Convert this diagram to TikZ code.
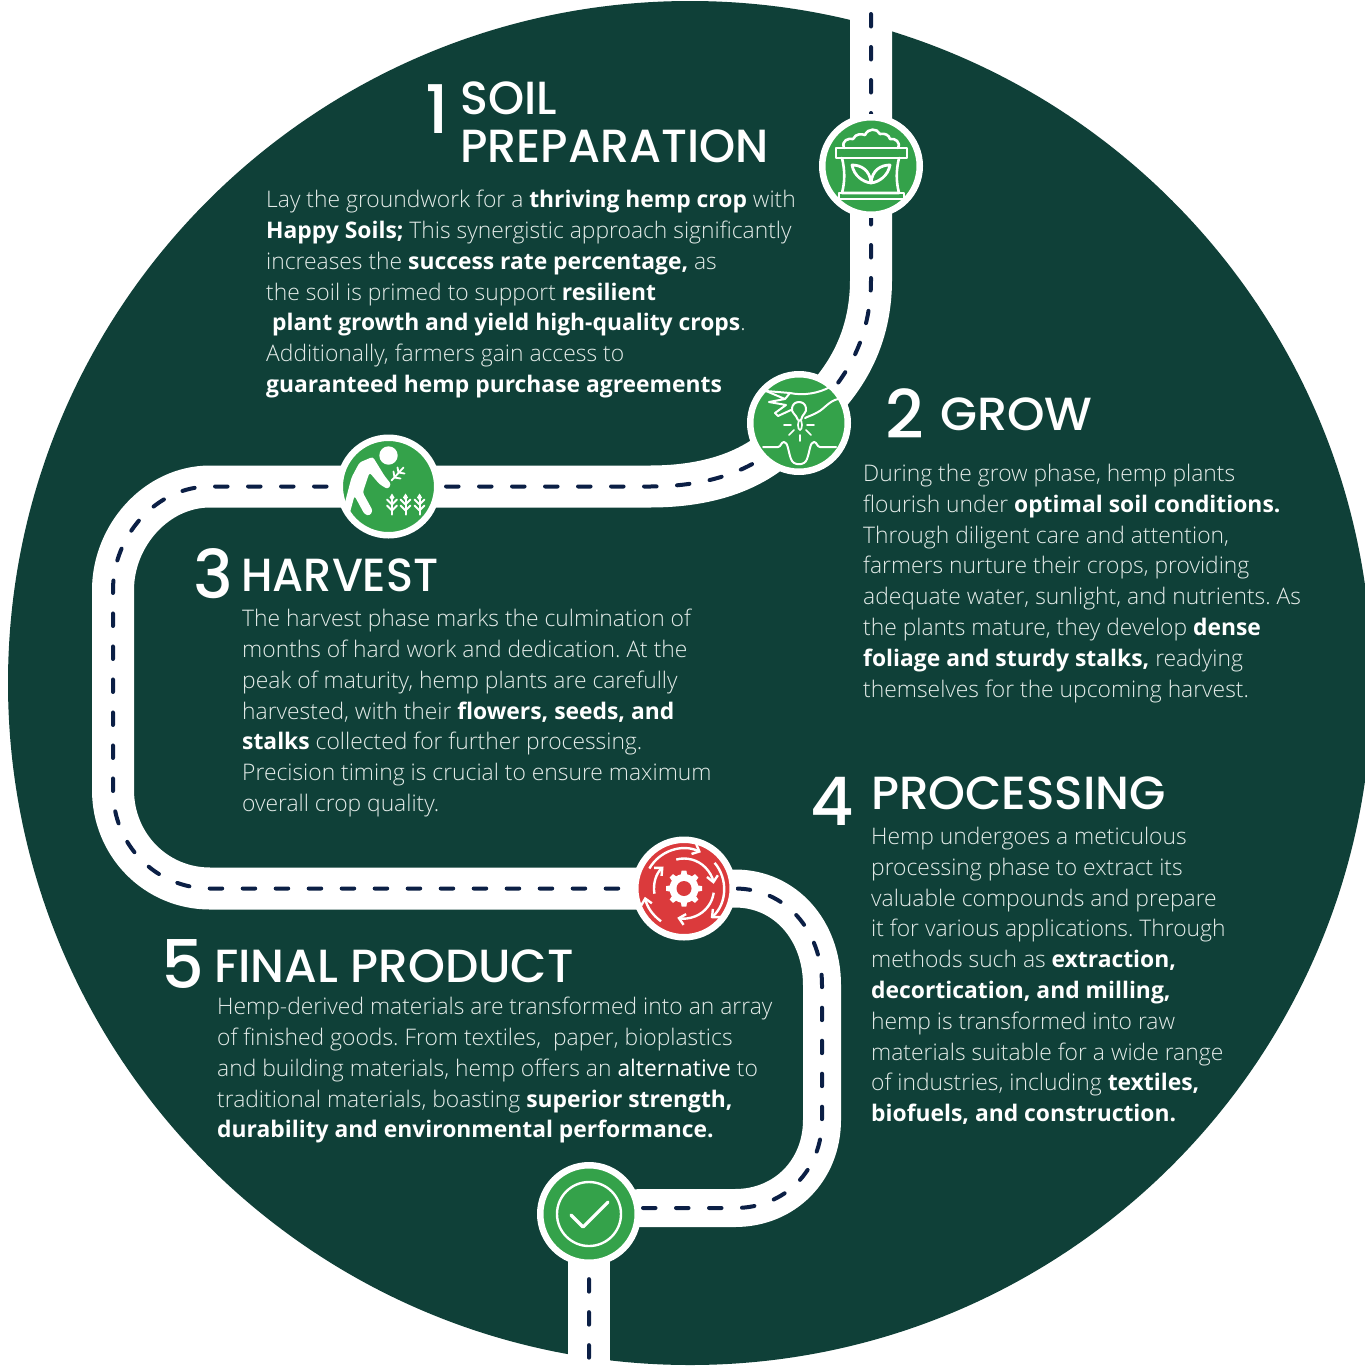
\documentclass[tikz,border=0pt]{standalone}
\usepackage{fontspec}
\usepackage{graphicx}
\usetikzlibrary{arrows.meta}
\setmainfont{Open Sans}
\newfontfamily\regf{Open Sans}
\newfontfamily\lightf{Open Sans Light}
\newfontfamily\headf{Poppins Medium}
\definecolor{bgdark}{HTML}{0F4038}
\definecolor{icongreen}{HTML}{34A24A}
\definecolor{iconred}{HTML}{DB3A3C}
\definecolor{dashnavy}{HTML}{0B1F45}
\definecolor{bodytext}{HTML}{E4ECE9}
\newcommand{\B}[1]{{\regf\bfseries\color{white}#1}}
\newcommand{\Rg}[1]{{\regf\color{white}#1}}
\newcommand{\Hs}[2]{\scalebox{#1}[1]{#2}}
\pgfdeclarelayer{under}
\pgfsetlayers{under,main}
\tikzset{
  para/.style={anchor=north west,inner sep=0pt,align=left,text=bodytext,font=\fontsize{22.85}{30.8}\selectfont\lightf\frenchspacing},
  headtxt/.style={anchor=base west,inner sep=0pt,text=white,font=\fontsize{46.5}{48}\selectfont\headf},
  digit/.style={anchor=base west,inner sep=0pt,text=white,font=\fontsize{67}{70}\selectfont\headf},
  badge/.style={circle,fill=#1,draw=white,line width=6.5pt,minimum size=97.5pt,inner sep=0pt},
  ic/.style={draw=white,line cap=round,line join=round,fill=none},
  roadline/.style={white,line join=round,line width=#1},
  roaddash/.style={dashnavy,line width=4pt,line cap=round,dash pattern=on 12.5pt off 20.5pt},
}
\begin{document}
\begin{tikzpicture}[x=1pt,y=-1pt]
\useasboundingbox (0,0) rectangle (1365,1366);

% named positions
\coordinate (top) at (871,14);
\coordinate (bottom) at (589,1370);
\node[badge=icongreen] (s1) at (871,166) {};
\node[badge=icongreen] (s2) at (799,423) {};
\node[badge=icongreen] (s3) at (388.5,486.5) {};
\node[badge=iconred] (s4) at (684,888.5) {};
\node[badge=icongreen] (s5) at (589,1214) {};

% background and road
\begin{pgfonlayer}{under}
\fill[white] (0,0) rectangle (1365,1366);
\fill[bgdark] (690,683) circle[radius=682pt];
\def\roadA{(top) -- (s1.center) -- (871,280) .. controls (871,345) and (840,390) .. (s2.center)
  .. controls (765,470) and (710,486.5) .. (650,486.5) -- (s3.center) -- (210,486.5)
  .. controls (156,486.5) and (113,536) .. (113,590) -- (113,790)
  .. controls (113,845) and (156,888.5) .. (210,888.5) -- (s4.center)}
\def\roadB{-- (735,888.5)
  .. controls (785,888.5) and (822,930) .. (822,985) -- (822,1120)
  .. controls (822,1170) and (785,1208) .. (735,1208) -- (640,1208) -- (s5.center)}
\draw[roadline=42pt] \roadA;
\draw[roadline=38pt] (s4.center) \roadB;
\draw[roadline=42pt] (s5.center) -- (bottom);
\draw[roaddash] \roadA \roadB -- (bottom);
\end{pgfonlayer}

% icon 1 : bag
\begin{scope}[shift={(s1.center)},x=1pt,y=-1pt]
\draw[ic,line width=2.6pt] (-35,-18) rectangle (36,-8);
\draw[ic,line width=2.6pt] (-29,-8) .. controls (-26,5) and (-26,15) .. (-29,27) -- (28,27) .. controls (25,15) and (25,5) .. (28,-8);
\draw[ic,line width=2.6pt] (-32,27) rectangle (33,33);
\draw[ic,line width=2.6pt] (-27,-18) .. controls (-30,-26) and (-22,-28) .. (-18,-27) .. controls (-15,-33) and (-9,-32) .. (-6,-31) .. controls (-3,-38) and (6,-38) .. (9,-32) .. controls (14,-33) and (18,-31) .. (19,-27) .. controls (24,-28) and (30,-24) .. (27,-18);
\draw[ic,line width=2.8pt] (0,17) .. controls (-8,16) and (-17,10) .. (-19,-1) .. controls (-10,-1) and (-1,4) .. (0,17) .. controls (1,4) and (10,-1) .. (19,-1) .. controls (17,10) and (8,16) .. (0,17);
\end{scope}

% icon 2 : hand and seed
\begin{scope}[shift={(s2.center)},x=1pt,y=-1pt]
\draw[ic,line width=2pt] (-33,-32) -- (-9,-30) .. controls (5,-27) and (20,-30) .. (31,-36);
\draw[ic,line width=2pt] (39,-24) .. controls (30,-22) and (25,-14) .. (19,-11) .. controls (14,-8) and (10,-7) .. (6,-5);
\draw[ic,line width=2pt] (-33,-32) -- (-14,-24) -- (-30,-21) -- (-13,-18) -- (-24,-10) -- (-21,-7) -- (-8,-13);
\draw[ic,line width=2pt] (-9,-30) -- (-14,-24);
\draw[ic,line width=2pt] (-1,-3) .. controls (-3,-9) and (-8,-10) .. (-7,-15) .. controls (-6,-23) and (6,-23) .. (7,-15) .. controls (8,-10) and (3,-9) .. (2,-3);
\draw[ic,line width=1.7pt] (1,2) ellipse[x radius=2pt,y radius=5pt];
\draw[ic,line width=1.7pt] (-15,2) -- (-8,2) (8,2) -- (15,2) (-10,12) -- (-5,7) (7,7) -- (12,12) (1,12) -- (1,18);
\draw[ic,line width=2pt] (-36,24) -- (-21,24) .. controls (-18,24) and (-18,19) .. (-15,19) .. controls (-11,19) and (-11,28) .. (-8,36) .. controls (-6,43) and (6,43) .. (8,36) .. controls (11,28) and (11,19) .. (15,19) .. controls (18,19) and (18,24) .. (21,24) -- (37,24);
\end{scope}

% icon 3 : harvester
\begin{scope}[shift={(s3.center)},x=1pt,y=-1pt]
\fill[white] (0,-31) circle[radius=9.2pt];
\fill[white,rounded corners=2.5pt] (-29,-24) -- (-15.7,-29.7) -- (-4,-10.7) -- (2.7,-2.3) -- (-0.7,2.7) -- (-9,-2.3) -- (-19,-14) -- (-25.7,6) -- (-15.7,24.3) -- (-19,29.3) -- (-24,27.7) -- (-34,9.3) -- (-39,27.7) -- (-45.7,24.3) -- (-37,-9) -- cycle;
\draw[ic,line width=1.8pt] (3,-6) -- (15,-19) (6,-9) -- (5,-15) (6,-9) -- (12,-8) (10,-14) -- (9,-19) (10,-14) -- (16,-13);
\foreach \wx in {3.5,17,31}{
  \draw[ic,line width=2pt] (\wx,9) -- (\wx,28);
  \fill[white] (\wx,7) -- (\wx+2.5,11) -- (\wx,14) -- (\wx-2.5,11) -- cycle;
  \draw[ic,line width=2pt] (\wx-5,13) -- (\wx,18) -- (\wx+5,13) (\wx-5,19) -- (\wx,24) -- (\wx+5,19);
}
\end{scope}

% icon 4 : gear and arrows
\begin{scope}[shift={(s4.center)},x=1pt,y=1pt]
\tikzset{gearr/.style={draw=white,line width=2.4pt,-{Straight Barb[length=6pt,width=11pt]}}}
\draw[gearr] (150:40) arc[start angle=150,end angle=65,radius=40pt];
\draw[gearr] (40:40) arc[start angle=40,end angle=-48,radius=40pt];
\draw[gearr] (-125:40) arc[start angle=-125,end angle=-168,radius=40pt];
\draw[gearr] (190:30) arc[start angle=190,end angle=133,radius=30pt];
\draw[gearr] (105:30) arc[start angle=105,end angle=9,radius=30pt];
\draw[gearr] (-8:30) arc[start angle=-8,end angle=-103,radius=30pt];
\fill[white] (0,0) circle[radius=14.5pt];
\foreach \a in {0,45,...,315}{
  \fill[white,rotate=\a] (13,-3.2) -- (18,-2.4) -- (18,2.4) -- (13,3.2) -- cycle;
}
\fill[iconred] (0,0) circle[radius=7.5pt];
\end{scope}

% icon 5 : check
\begin{scope}[shift={(s5.center)},x=1pt,y=-1pt]
\draw[ic,line width=2.4pt] (0,0) circle[radius=32pt];
\draw[ic,line width=3.2pt] (-18,1) -- (-6,13) -- (19,-12);
\end{scope}

% texts
\node[digit] (n1) at (425,133) {1};
\node[headtxt] (t1a) at (460,114) {\Hs{.99}{SOIL}};
\node[headtxt] (t1b) at (460,162) {\Hs{.99}{PREPARATION}};
\node[para] (p1) at (266,190) {Lay the groundwork for a \B{thriving hemp crop} with\\
\B{Happy Soils;} This synergistic approach significantly\\
increases the \B{success rate percentage,} as\\
the soil is primed to support \B{resilient}\\
\hspace*{6pt}\B{plant growth and yield high-quality crops}.\\
Additionally, farmers gain access to\\
\B{guaranteed hemp purchase agreements}};

\node[digit] (n2) at (885,438) {2};
\node[headtxt] (t2) at (940,430) {\Hs{1.027}{GROW}};
\node[para] (p2) at (863,464) {During the grow phase, hemp plants\\
flourish under \B{optimal soil conditions.}\\
Through diligent care and attention,\\
farmers nurture their crops, providing\\
adequate water, sunlight, and nutrients. As\\
the plants mature, they develop \B{dense}\\
\B{foliage and sturdy stalks,} readying\\
themselves for the upcoming harvest.};

\node[digit] (n3) at (193,598) {3};
\node[headtxt] (t3) at (241,591) {\Hs{.96}{HARVEST}};
\node[para] (p3) at (242,609) {The harvest phase marks the culmination of\\
months of hard work and dedication. At the\\
peak of maturity, hemp plants are carefully\\
harvested, with their \B{flowers, seeds, and}\\
\B{stalks} collected for further processing.\\
Precision timing is crucial to ensure maximum\\
overall crop quality.};

\node[digit] (n4) at (810,825) {4};
\node[headtxt] (t4) at (871,809) {\Hs{1.01}{PROCESSING}};
\node[para] (p4) at (871,827) {Hemp undergoes a meticulous\\
processing phase to extract its\\
valuable compounds and prepare\\
it for various applications. Through\\
methods such as \B{extraction,}\\
\B{decortication, and milling,}\\
hemp is transformed into raw\\
materials suitable for a wide range\\
of industries, including \B{textiles,}\\
\B{biofuels, and construction.}};

\node[digit] (n5) at (161,988) {5};
\node[headtxt] (t5) at (214,982) {\Hs{1.011}{FINAL PRODUCT}};
\node[para] (p5) at (217,997) {Hemp-derived materials are transformed into an array\\
of finished goods. From textiles,~ paper, bioplastics\\
and building materials, hemp offers an \Rg{alternative} to\\
traditional materials, boasting \B{superior strength,}\\
\B{durability and environmental performance.}};
\end{tikzpicture}
\end{document}
